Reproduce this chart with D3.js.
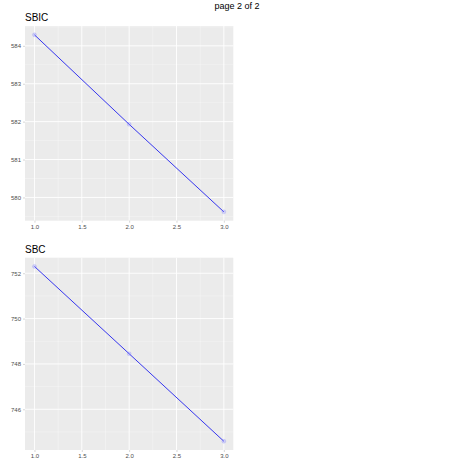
<!DOCTYPE html>
<html>
<head>
<meta charset="utf-8">
<script src="https://cdn.jsdelivr.net/npm/d3@7/dist/d3.min.js"></script>
<style>
  body { margin: 0; background: #fff; }
  text { font-family: "Liberation Sans", Arial, sans-serif; }
</style>
</head>
<body>
<div id="chart"></div>
<script>
// data
const steps = [1, 2, 3];
const sbic = [584.29, 581.93, 579.62];
const sbc = [752.30, 748.45, 744.59];
const xTicks = [1.0, 1.5, 2.0, 2.5, 3.0];
const sbicTicks = [580, 581, 582, 583, 584];
const sbcTicks = [746, 748, 750, 752];

const W = 474, H = 474;

const svg = d3.select("#chart")
    .append("svg")
    .attr("width", W)
    .attr("height", H);

svg.append("text")
    .attr("x", 237)
    .attr("y", 9)
    .attr("text-anchor", "middle")
    .style("font-size", "9px")
    .style("fill", "#000")
    .text("page 2 of 2");

// ggplot style expanded domain (5% each side)
function expand(ext) {
    const d = (ext[1] - ext[0]) * 0.05;
    return [ext[0] - d, ext[1] + d];
}

// midpoints between major breaks, kept if inside the limits
function minorBreaks(major, dom) {
    const step = major[1] - major[0];
    const out = [];
    for (let v = major[0] - step / 2; v <= major[major.length - 1] + step / 2 + 1e-9; v += step) {
        if (v >= dom[0] && v <= dom[1]) out.push(v);
    }
    return out;
}

function panel(title, values, yTicks, box) {
    const g = svg.append("g");

    const x = d3.scaleLinear()
        .domain(expand(d3.extent(steps)))
        .range([box.left, box.right]);

    const y = d3.scaleLinear()
        .domain(expand(d3.extent(values)))
        .range([box.bottom, box.top]);

    g.append("rect")
        .attr("x", box.left)
        .attr("y", box.top)
        .attr("width", box.right - box.left)
        .attr("height", box.bottom - box.top)
        .attr("fill", "#EBEBEB");

    // minor grid
    g.selectAll("line.xminor")
        .data(minorBreaks(xTicks, x.domain()))
        .join("line")
        .attr("x1", d => x(d)).attr("x2", d => x(d))
        .attr("y1", box.top).attr("y2", box.bottom)
        .attr("stroke", "#fff").attr("stroke-width", 0.4).attr("opacity", 0.8);

    g.selectAll("line.yminor")
        .data(minorBreaks(yTicks, y.domain()))
        .join("line")
        .attr("y1", d => y(d)).attr("y2", d => y(d))
        .attr("x1", box.left).attr("x2", box.right)
        .attr("stroke", "#fff").attr("stroke-width", 0.4).attr("opacity", 0.8);

    // major grid
    g.selectAll("line.xmajor")
        .data(xTicks)
        .join("line")
        .attr("x1", d => x(d)).attr("x2", d => x(d))
        .attr("y1", box.top).attr("y2", box.bottom)
        .attr("stroke", "#fff").attr("stroke-width", 0.9);

    g.selectAll("line.ymajor")
        .data(yTicks)
        .join("line")
        .attr("y1", d => y(d)).attr("y2", d => y(d))
        .attr("x1", box.left).attr("x2", box.right)
        .attr("stroke", "#fff").attr("stroke-width", 0.9);

    // axes
    const xAxis = d3.axisBottom(x)
        .tickValues(xTicks)
        .tickFormat(d3.format(".1f"))
        .tickSize(2)
        .tickPadding(2);

    const yAxis = d3.axisLeft(y)
        .tickValues(yTicks)
        .tickFormat(d3.format("d"))
        .tickSize(2)
        .tickPadding(2);

    const gx = g.append("g")
        .attr("transform", `translate(0, ${box.bottom})`)
        .call(xAxis);
    const gy = g.append("g")
        .attr("transform", `translate(${box.left}, 0)`)
        .call(yAxis);

    [gx, gy].forEach(a => {
        a.select(".domain").remove();
        a.selectAll(".tick line").attr("stroke", "#999").attr("stroke-width", 0.4);
        a.selectAll(".tick text")
            .style("font-family", '"Liberation Sans", Arial, sans-serif')
            .style("font-size", "6px")
            .style("fill", "#4D4D4D");
    });

    const pts = steps.map((s, i) => ({ s, v: values[i] }));

    g.append("path")
        .datum(pts)
        .attr("fill", "none")
        .attr("stroke", "#2222EE")
        .attr("stroke-width", 1)
        .attr("stroke-opacity", 0.9)
        .attr("d", d3.line().x(d => x(d.s)).y(d => y(d.v)));

    g.selectAll("circle")
        .data(pts)
        .join("circle")
        .attr("cx", d => x(d.s))
        .attr("cy", d => y(d.v))
        .attr("r", 2)
        .attr("fill", "#6A6AFF")
        .attr("fill-opacity", 0.25)
        .attr("stroke", "#8080FF")
        .attr("stroke-opacity", 0.4)
        .attr("stroke-width", 0.5);

    g.append("text")
        .attr("x", box.left)
        .attr("y", box.top - 5)
        .style("font-size", "10px")
        .style("fill", "#000")
        .text(title);
}

panel("SBIC", sbic, sbicTicks, { left: 25, right: 233.3, top: 26, bottom: 220.7 });
panel("SBC", sbc, sbcTicks, { left: 25, right: 233.3, top: 257.7, bottom: 450 });
</script>
</body>
</html>
